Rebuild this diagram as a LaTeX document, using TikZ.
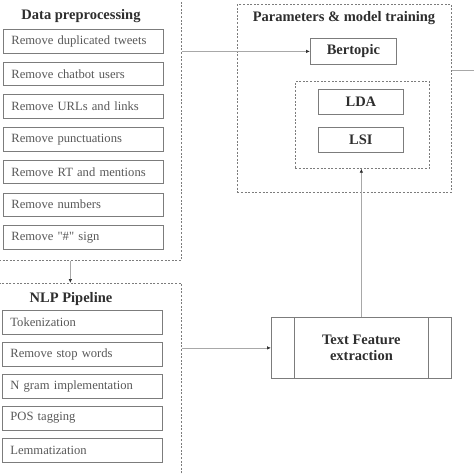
\documentclass[tikz,border=0pt]{standalone}
\usepackage{fontspec}
\setmainfont{Liberation Serif}
\usetikzlibrary{arrows.meta,positioning}
\definecolor{boxline}{HTML}{7C7C7C}
\definecolor{itemtext}{HTML}{575757}
\definecolor{titletext}{HTML}{2E2E2E}
\definecolor{wire}{HTML}{A8A8A8}
\begin{document}
\begin{tikzpicture}[x=1pt,y=-1pt,
    item/.style={draw=boxline, line width=0.8pt, anchor=north west, text=itemtext,
      font=\fontsize{12.6}{14}\selectfont, inner xsep=8pt, text width=144pt,
      minimum height=23.5pt, align=left},
    model/.style={draw=boxline, line width=0.8pt, anchor=north west, text=titletext,
      font=\fontsize{14.5}{16.5}\selectfont\bfseries, inner sep=0pt},
    group/.style={draw=boxline, line width=0.7pt, dash pattern=on 2pt off 1.6pt,
      anchor=north west, inner sep=0pt},
    title/.style={text=titletext, font=\fontsize{14.5}{16}\selectfont\bfseries},
    arr/.style={draw=wire, line width=0.7pt,
      -{Latex[length=4pt,width=3.5pt,color=titletext]}}]
  \useasboundingbox (0,0) rectangle (474,474);

  % dashed groups
  \node[group, minimum width=222pt, minimum height=265pt] (data) at (-41,-5) {};
  \node[group, minimum width=222pt, minimum height=220pt] (nlp) at (-41,283) {};
  \node[group, minimum width=214pt, minimum height=188pt] (params) at (237,4) {};
  \node[group, minimum width=134pt, minimum height=87pt] (inner) at (295,81) {};

  \node[title] (datatitle) at (81,16) {Data preprocessing};
  \node[title] (nlptitle) at (71,299) {NLP Pipeline};
  \node[title] (paramstitle) at (344,18) {Parameters \& model training};

  % cleaning steps
  \foreach \txt [count=\i, evaluate={\i as \y using {29+32.7*(\i-1)}}] in {Remove duplicated tweets, Remove chatbot users,
      Remove URLs and links, Remove punctuations, Remove RT and mentions, Remove numbers,
      Remove \textquotedbl\#\textquotedbl{} sign} {
    \node[item] (dp\i) at (3,\y) {\txt};
  }

  % nlp steps
  \foreach \txt [count=\i, evaluate={\i as \y using {310+32*(\i-1)}}] in {Tokenization, Remove stop words,
      N gram implementation, POS tagging, Lemmatization} {
    \node[item] (np\i) at (2,\y) {\txt};
  }

  % models
  \node[model, minimum width=86pt, minimum height=26pt] (bert) at (310,38) {Bertopic};
  \node[model, minimum width=85pt, minimum height=25pt] (lda) at (318,89) {LDA};
  \node[model, minimum width=85pt, minimum height=25pt] (lsi) at (318,127) {LSI};

  \node[model, minimum width=180pt, minimum height=61pt, align=center] (tfe) at (271,317)
    {Text Feature\\extraction};
  \draw[draw=boxline, line width=0.8pt]
    ([xshift=23pt]tfe.north west) -- ([xshift=23pt]tfe.south west)
    ([xshift=-23pt]tfe.north east) -- ([xshift=-23pt]tfe.south east);

  \coordinate (out) at (480,70);

  \draw[arr] (data.south) -- (nlp.north);
  \draw[arr] (bert.west -| data.east) -- (bert.west);
  \draw[arr] (tfe.west -| nlp.east) -- (tfe.west);
  \draw[arr] (tfe.north) -- (tfe.north |- inner.south);
  \draw[draw=wire, line width=0.7pt] (out -| params.east) -- (out);
\end{tikzpicture}
\end{document}
